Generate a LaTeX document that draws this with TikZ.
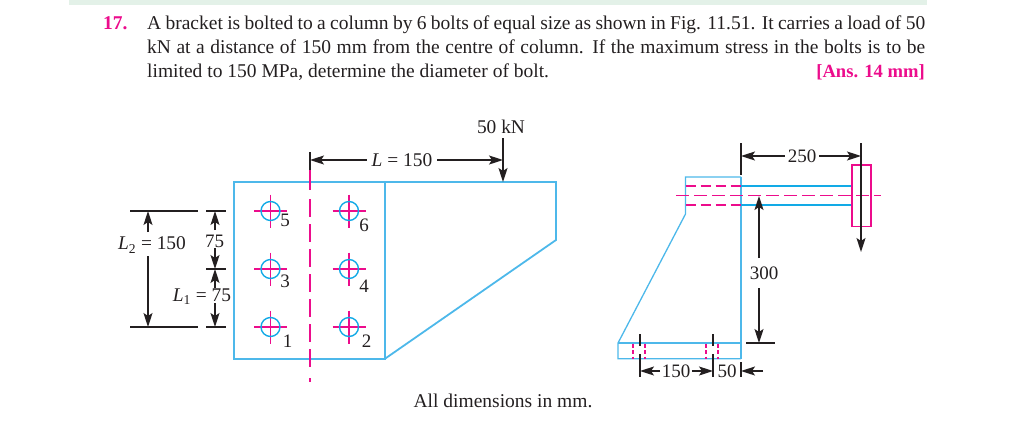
\documentclass[tikz,border=0pt]{standalone}
\usepackage{fontspec}
\setmainfont{Liberation Serif}
\usetikzlibrary{arrows.meta}
\definecolor{cy}{HTML}{4DB8EA}
\definecolor{cyd}{HTML}{12AAE6}
\definecolor{pk}{HTML}{EC0C8C}
\definecolor{band}{HTML}{E3F1E8}
\definecolor{ink}{HTML}{231F20}
\tikzset{
 x=1pt,y=-1pt,
 txt/.style={inner sep=0pt,font=\fontsize{19.5}{22}\selectfont,text=ink,anchor=base west},
 lab/.style={inner sep=1.5pt,font=\fontsize{19.4}{22}\selectfont,text=ink},
 num/.style={inner sep=0pt,font=\fontsize{19}{20}\selectfont,text=ink},
 plate/.style={draw=cy,line width=1.8pt,line join=miter},
 thin plate/.style={draw=cy,line width=1.3pt},
 cl/.style={draw=pk,line width=1.6pt},
 cld/.style={draw=pk,line width=1.8pt,dash pattern=on 10pt off 5pt},
 ext/.style={draw=ink,line width=1.5pt},
 dim/.style={draw=ink,line width=1.5pt,-{Stealth[length=14pt,width=9pt,inset=3pt]}},
}
\newcommand{\bolt}[2]{%
 \draw[cl,line width=1.2pt] (#1-16.5,#2)--(#1+16.5,#2) (#1,#2-16.5)--(#1,#2+16.5);
 \draw[draw=cyd,line width=1.4pt] (#1,#2) circle (9.5);}
\begin{document}
\begin{tikzpicture}
\useasboundingbox (0,0) rectangle (1024,437);
\fill[band] (69,0) rectangle (927,5);
% text
\node[txt,text=pk,font=\fontsize{19.5}{22}\bfseries\selectfont] (q) at (103,29) {17.};
\node[txt] (l1) at (147,29) {\hbox to 778pt{A bracket is bolted to a column by 6 bolts of equal size as shown in Fig. 11.51. It carries a load of 50}};
\node[txt] (l2) at (147,53) {\hbox to 778pt{kN at a distance of 150 mm from the centre of column. If the maximum stress in the bolts is to be}};
\node[txt] (l3) at (147,77) {limited to 150 MPa, determine the diameter of bolt.};
\node[txt,anchor=base east,text=pk,font=\fontsize{18.6}{22}\bfseries\selectfont] (ans) at (925,77) {[Ans. 14 mm]};
\node[txt,anchor=base] (all) at (503,407) {All dimensions in mm.};
% left view plate
\draw[plate] (233.7,182) rectangle (385,358.7);
\draw[plate] (385,182)--(556,182)--(556,240)--(385,358.7);
% centre line
\draw[ext] (310,152)--(310,170);
\draw[cl] (310,170)--(310,190);
\draw[cl,dash pattern=on 18pt off 7pt] (310,199)--(310,372);
\draw[cl] (310,378)--(310,382);
% bolts
\bolt{270.5}{211}\bolt{349}{211}
\bolt{270.5}{269}\bolt{349}{269}
\bolt{270.5}{327}\bolt{349}{327}
\foreach \n/\x/\y in {5/285/220,6/364/225,3/285/281,4/364/286,1/287.5/341,2/366.5/341}
  \node[num] (b\n) at (\x,\y) {\n};
% dims left
\draw[ext] (130,211)--(198,211) (130,327)--(198,327);
\draw[ext] (206,211)--(226,211) (206,269)--(226,269) (206,327)--(226,327);
\node[lab] (L2) at (152,245) {\textit{L}\textsubscript{2} = 150};
\coordinate (L2t) at (148,211); \coordinate (L2b) at (148,327);
\draw[dim] (148,232)--(L2t);
\draw[dim] (148,256)--(L2b);
\node[num] (n75) at (214.5,241) {75};
\coordinate (a1) at (215,211); \coordinate (a2) at (215,269); \coordinate (a3) at (215,327);
\draw[dim] (215,230)--(a1);
\draw[dim] (215,248)--(a2);
\draw[dim] (215,288)--(a2);
\draw[dim] (215,303)--(a3);
\node[lab,inner sep=0pt] (L1) at (202,297) {\textit{L}\textsubscript{1} = 75};
% top dims
\node[lab,inner sep=0pt] (kn) at (501,127) {50 kN};
\coordinate (Pt) at (503,138); \coordinate (Pb) at (503,182);
\draw[dim] (Pt)--(Pb);
\node[lab,inner sep=5pt] (L) at (402,160) {\textit{L} = 150};
\coordinate (La) at (310,160); \coordinate (Lb) at (503,160);
\draw[dim] (L)--(La);
\draw[dim] (L)--(Lb);
% right view
\draw[thin plate] (741,177)--(685.5,177)--(685.5,214)--(618,343)--(618,358.7)--(741,358.7);
\draw[plate] (741,177)--(741,358.7);
\draw[thin plate] (618,343)--(741,343);
\draw[draw=cyd,line width=1.6pt] (741,186)--(851,186) (741,205)--(851,205);
\draw[cld] (685.5,186)--(741,186) (685.5,205)--(741,205);
\draw[cl,line width=1.8pt,dash pattern=on 13pt off 5pt] (676,195.5)--(881,195.5);
\draw[draw=pk,line width=1.7pt] (851.7,165) rectangle (871,226.5);
% load
\coordinate (Rt) at (861,143); \coordinate (Rb) at (861,252);
\draw[dim] (Rt)--(Rb);
% 250
\draw[ext] (741,143)--(741,175);
\node[num,inner sep=3pt] (n250) at (802,156) {250};
\coordinate (ra) at (741,156); \coordinate (rb) at (861,156);
\draw[dim] (n250)--(ra);
\draw[dim] (n250)--(rb);
% 300
\node[num] (n300) at (764,273) {300};
\coordinate (ua) at (759,196); \coordinate (ub) at (759,343);
\draw[dim] (759,258)--(ua);
\draw[dim] (759,288)--(ub);
\draw[ext] (746,343)--(775,343);
% bolts bottom
\foreach \x in {640,713}{
 \draw[ext] (\x,334)--(\x,346) (\x,354)--(\x,377);
 \draw[cl,line width=2pt,dash pattern=on 4pt off 2.5pt] (\x-7,343.5)--(\x-7,359);
 \draw[cl,line width=2pt,dash pattern=on 4pt off 2.5pt] (\x+5,343.5)--(\x+5,359);
}
\draw[ext] (741,362)--(741,377);
\node[num,inner sep=1.5pt] (n150) at (676,371) {150};
\coordinate (da) at (640,371); \coordinate (db) at (713,371);
\draw[dim] (n150)--(da);
\draw[dim] (n150)--(db);
\node[num] (n50) at (727,371) {50};
\coordinate (de) at (741,371); \coordinate (df) at (763,371);
\draw[dim] (df)--(de);
\end{tikzpicture}
\end{document}
